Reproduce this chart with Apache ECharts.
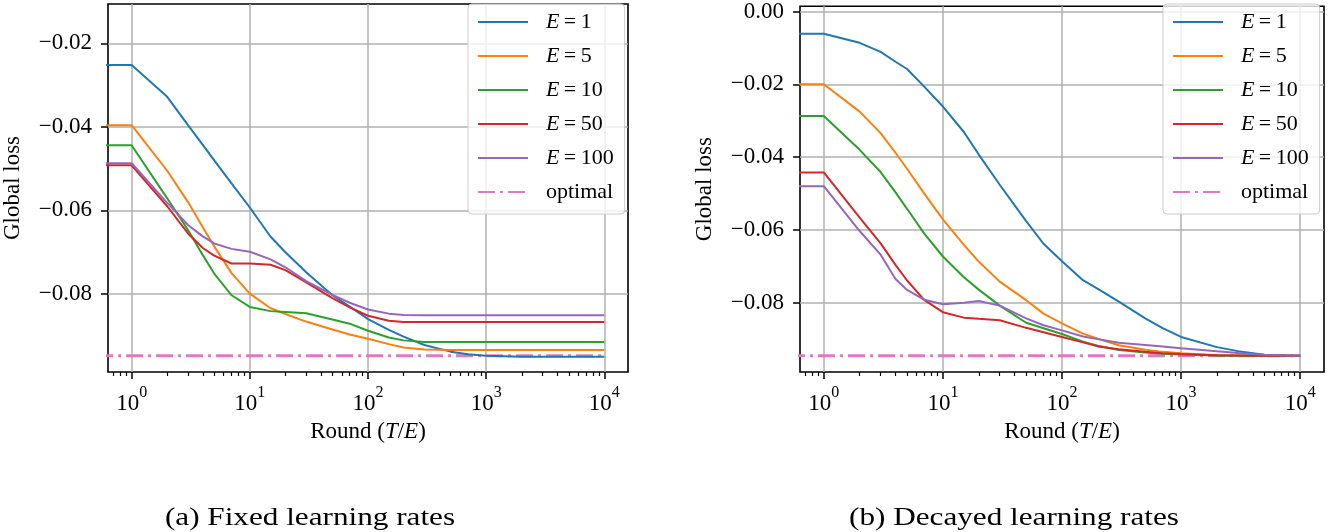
<!DOCTYPE html>
<html><head><meta charset="utf-8">
<script src="https://cdn.jsdelivr.net/npm/echarts@6/dist/echarts.min.js"></script>
<style>html,body{margin:0;padding:0;background:#fff}#c{width:1328px;height:532px}</style>
</head><body><div id="c"></div>
<script>
// ---------- data ----------
// x positions (round T/E); 0.5 stands for round 0, which falls left of the log axis and is clipped
const ROUNDS = [0.5, 1, 2, 3, 4, 5, 7, 10, 15, 20, 30, 50, 70, 100, 150, 200, 300, 500, 700, 1000, 2000, 3000, 5000, 10000];
const SERIES_NAMES = ['E=1', 'E=5', 'E=10', 'E=50', 'E=100', 'optimal'];

// (a) Fixed learning rates
const FIXED_E1   = [-0.0252,-0.0252,-0.0328,-0.0396,-0.0443,-0.0480,-0.0535,-0.0593,-0.0663,-0.0700,-0.0748,-0.0803,-0.0830,-0.0860,-0.0886,-0.0902,-0.0922,-0.0938,-0.0944,-0.0948,-0.0950,-0.0950,-0.0950,-0.0950];
const FIXED_E5   = [-0.0396,-0.0396,-0.0505,-0.0580,-0.0640,-0.0686,-0.0750,-0.0799,-0.0834,-0.0848,-0.0866,-0.0885,-0.0897,-0.0907,-0.0920,-0.0928,-0.0933,-0.0934,-0.0934,-0.0934,-0.0934,-0.0934,-0.0934,-0.0934];
const FIXED_E10  = [-0.0444,-0.0444,-0.0571,-0.0647,-0.0707,-0.0751,-0.0803,-0.0831,-0.0841,-0.0843,-0.0846,-0.0861,-0.0871,-0.0888,-0.0904,-0.0911,-0.0915,-0.0915,-0.0915,-0.0915,-0.0915,-0.0915,-0.0915,-0.0915];
const FIXED_E50  = [-0.0492,-0.0492,-0.0590,-0.0655,-0.0690,-0.0708,-0.0727,-0.0727,-0.0730,-0.0743,-0.0772,-0.0810,-0.0832,-0.0852,-0.0864,-0.0867,-0.0867,-0.0867,-0.0867,-0.0867,-0.0867,-0.0867,-0.0867,-0.0867];
const FIXED_E100 = [-0.0487,-0.0487,-0.0582,-0.0635,-0.0662,-0.0679,-0.0692,-0.0699,-0.0717,-0.0736,-0.0769,-0.0802,-0.0821,-0.0837,-0.0847,-0.0850,-0.0851,-0.0851,-0.0851,-0.0851,-0.0851,-0.0851,-0.0851,-0.0851];
const FIXED_OPTIMAL = -0.0948;

// (b) Decayed learning rates
const DECAY_E1   = [-0.0061,-0.0061,-0.0086,-0.0111,-0.0138,-0.0158,-0.0207,-0.0261,-0.0331,-0.0393,-0.0476,-0.0576,-0.0638,-0.0686,-0.0738,-0.0762,-0.0797,-0.0843,-0.0870,-0.0894,-0.0922,-0.0933,-0.0943,-0.0946];
const DECAY_E5   = [-0.0200,-0.0200,-0.0275,-0.0334,-0.0388,-0.0432,-0.0501,-0.0571,-0.0641,-0.0687,-0.0742,-0.0793,-0.0830,-0.0857,-0.0885,-0.0899,-0.0917,-0.0929,-0.0935,-0.0939,-0.0944,-0.0945,-0.0946,-0.0946];
const DECAY_E10  = [-0.0287,-0.0287,-0.0380,-0.0441,-0.0497,-0.0542,-0.0611,-0.0673,-0.0730,-0.0764,-0.0808,-0.0855,-0.0870,-0.0886,-0.0907,-0.0918,-0.0930,-0.0937,-0.0940,-0.0942,-0.0945,-0.0946,-0.0946,-0.0946];
const DECAY_E50  = [-0.0442,-0.0442,-0.0566,-0.0637,-0.0696,-0.0739,-0.0793,-0.0826,-0.0841,-0.0844,-0.0848,-0.0869,-0.0881,-0.0894,-0.0909,-0.0920,-0.0928,-0.0935,-0.0939,-0.0941,-0.0944,-0.0945,-0.0946,-0.0946];
const DECAY_E100 = [-0.0480,-0.0480,-0.0603,-0.0668,-0.0735,-0.0765,-0.0792,-0.0804,-0.0800,-0.0795,-0.0808,-0.0843,-0.0862,-0.0876,-0.0893,-0.0900,-0.0910,-0.0916,-0.0920,-0.0925,-0.0933,-0.0938,-0.0943,-0.0946];
const DECAY_OPTIMAL = -0.0946;

// ticks
const X_TICKS = [1, 10, 100, 1000, 10000];
const X_TICK_EXP = ['0', '1', '2', '3', '4'];
const X_MINOR_TICKS = [0.7, 0.8, 0.9, 2, 3, 4, 5, 6, 7, 8, 9, 20, 30, 40, 50, 60, 70, 80, 90,
  200, 300, 400, 500, 600, 700, 800, 900, 2000, 3000, 4000, 5000, 6000, 7000, 8000, 9000];
const Y_TICKS_A = [-0.08, -0.06, -0.04, -0.02];
const Y_LABELS_A = ['\u22120.08', '\u22120.06', '\u22120.04', '\u22120.02'];
const Y_TICKS_B = [-0.08, -0.06, -0.04, -0.02, 0.00];
const Y_LABELS_B = ['\u22120.08', '\u22120.06', '\u22120.04', '\u22120.02', '0.00'];
const CAPTIONS = ['(a) Fixed learning rates', '(b) Decayed learning rates'];

// ---------- styling ----------
const FONT = 'Liberation Serif, Times New Roman, serif';
const COLORS = ['#1f77b4', '#ff7f0e', '#2ca02c', '#d62728', '#9467bd', '#e377c2'];
const X_MIN = Math.pow(10, -0.2), X_MAX = Math.pow(10, 4.2);

function pairs(vals) { return ROUNDS.map((r, i) => [r, vals[i]]); }
function labelFor(ticks, labels) {
  return v => { const i = ticks.findIndex(t => Math.abs(t - v) < 1e-9); return i < 0 ? '' : labels[i]; };
}

function mainX(gridIndex) {
  return {
    type: 'log', logBase: 10, gridIndex, min: X_MIN, max: X_MAX, position: 'bottom',
    name: '{n|Round (}{i|T}{n|/}{i|E}{n|)}', nameLocation: 'middle', nameGap: 48,
    nameTextStyle: { rich: {
      n: { fontFamily: FONT, fontSize: 23, color: '#000' },
      i: { fontFamily: FONT, fontSize: 23, fontStyle: 'italic', color: '#000' } } },
    axisLine: { show: false, onZero: false },
    axisTick: { show: true, customValues: X_TICKS, length: 7, lineStyle: { color: '#000', width: 1.5 } },
    axisLabel: {
      customValues: X_TICKS, margin: 13,
      formatter: v => { const i = X_TICKS.findIndex(t => Math.abs(t - v) / t < 1e-6); return i < 0 ? '' : '{b|10}{s|' + X_TICK_EXP[i] + '}'; },
      rich: {
        b: { fontFamily: FONT, fontSize: 23, color: '#000', lineHeight: 30, verticalAlign: 'bottom' },
        s: { fontFamily: FONT, fontSize: 16, color: '#000', lineHeight: 16, verticalAlign: 'top' }
      }
    },
    splitLine: { show: true, lineStyle: { color: '#b0b0b0', width: 1.5 } }
  };
}
function minorX(gridIndex) {
  return {
    type: 'log', logBase: 10, gridIndex, min: X_MIN, max: X_MAX, position: 'bottom',
    axisLine: { show: false, onZero: false }, axisLabel: { show: false }, splitLine: { show: false },
    axisTick: { show: true, customValues: X_MINOR_TICKS, length: 4, lineStyle: { color: '#000', width: 1.2 } }
  };
}
function yAxis(gridIndex, min, max, ticks, labels) {
  return {
    type: 'value', gridIndex, min, max, position: 'left',
    name: 'Global loss', nameLocation: 'middle', nameGap: 84,
    nameTextStyle: { fontFamily: FONT, fontSize: 23, color: '#000' },
    axisLine: { show: false, onZero: false },
    axisTick: { show: true, customValues: ticks, length: 7, lineStyle: { color: '#000', width: 1.5 } },
    axisLabel: { customValues: ticks, margin: 16, formatter: labelFor(ticks, labels),
      fontFamily: FONT, fontSize: 23, color: '#000' },
    splitLine: { show: true, lineStyle: { color: '#b0b0b0', width: 1.5 } }
  };
}

function panelSeries(xIdx, yIdx, lists, opt) {
  const out = lists.map((vals, k) => ({
    type: 'line', name: SERIES_NAMES[k], xAxisIndex: xIdx, yAxisIndex: yIdx,
    data: pairs(vals), showSymbol: false, symbol: 'none', smooth: false, clip: true,
    lineStyle: { color: COLORS[k], width: 2 }, itemStyle: { color: COLORS[k] }, z: 3
  }));
  out.push({
    type: 'line', name: 'optimal', xAxisIndex: xIdx, yAxisIndex: yIdx,
    data: [[ROUNDS[0], opt], [ROUNDS[ROUNDS.length - 1], opt]],
    showSymbol: false, symbol: 'none', clip: true,
    lineStyle: { color: COLORS[5], width: 3, type: [17, 5, 3, 5] }, itemStyle: { color: COLORS[5] }, z: 2
  });
  return out;
}

function legend(left) {
  return {
    data: SERIES_NAMES, orient: 'vertical', left, top: 4, selectedMode: false,
    itemWidth: 50, itemHeight: 2, itemGap: 12, padding: [7, 11, 11, 9],
    itemStyle: { opacity: 0 },
    backgroundColor: 'rgba(255,255,255,0.8)', borderColor: '#cccccc', borderWidth: 1, borderRadius: 4,
    formatter: name => name === 'optimal' ? '{p|optimal}' : '{i|E}{n|\u2009=\u2009' + name.split('=')[1] + '}',
    textStyle: { fontFamily: FONT, fontSize: 22, color: '#000', lineHeight: 22,
      rich: {
        p: { fontFamily: FONT, fontSize: 22, lineHeight: 22, padding: [0, 0, 0, 13] },
        i: { fontFamily: FONT, fontSize: 22, lineHeight: 22, fontStyle: 'italic', padding: [0, 0, 0, 13] },
        n: { fontFamily: FONT, fontSize: 22, lineHeight: 22 }
      } }
  };
}

const chart = echarts.init(document.getElementById('c'), null, { renderer: 'canvas' });
chart.setOption({
  animation: false,
  backgroundColor: '#fff',
  grid: [
    { left: 103, top: 4, width: 525, height: 368, show: true, borderColor: '#000', borderWidth: 1.6, backgroundColor: 'transparent' },
    { left: 800, top: 4, width: 524, height: 368, show: true, borderColor: '#000', borderWidth: 1.6, backgroundColor: 'transparent' }
  ],
  xAxis: [mainX(0), minorX(0), mainX(1), minorX(1)],
  yAxis: [
    yAxis(0, -0.09867, -0.01059, Y_TICKS_A, Y_LABELS_A),
    yAxis(1, -0.09903, 0.00145, Y_TICKS_B, Y_LABELS_B)
  ],
  legend: [legend(468), legend(1163)],
  series: [
    ...panelSeries(0, 0, [FIXED_E1, FIXED_E5, FIXED_E10, FIXED_E50, FIXED_E100], FIXED_OPTIMAL),
    ...panelSeries(2, 1, [DECAY_E1, DECAY_E5, DECAY_E10, DECAY_E50, DECAY_E100], DECAY_OPTIMAL)
  ],
  graphic: CAPTIONS.map((t, i) => ({
    type: 'text', x: i === 0 ? 310 : 1014, y: 518, scaleX: 1.2,
    style: { text: t, fontFamily: FONT, fontSize: 26, fill: '#000', align: 'center', verticalAlign: 'middle' }
  }))
});
</script>
</body></html>
